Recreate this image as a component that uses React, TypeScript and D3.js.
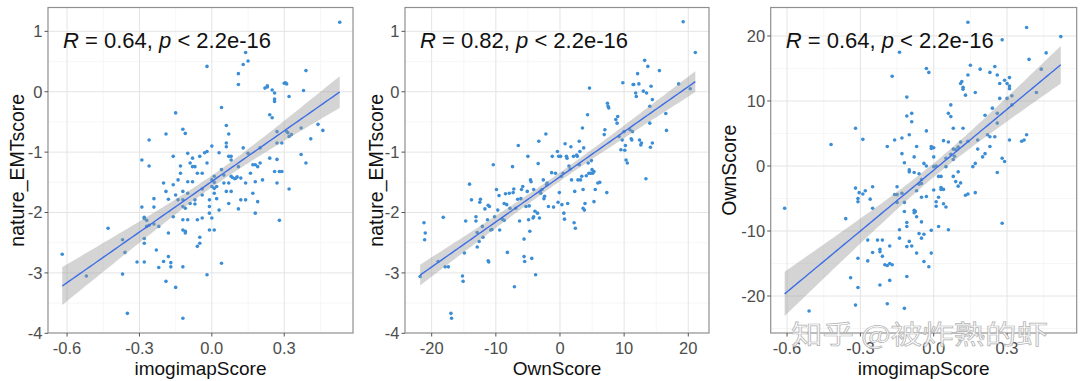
import React from "react";
import * as d3 from "d3";

type Pt = [number, number];

// Panel 1: x = imogimapScore, y = nature_EMTscore
const emtVsImogimap: Pt[] = [
  [-0.62,-2.69],[-0.52,-3.05],[-0.43,-2.26],[-0.36,-2.66],[-0.37,-2.45],[-0.37,-3.02],[-0.35,-3.67],
  [-0.31,-2.82],[-0.28,-2.82],[-0.29,-1.13],[-0.26,-0.80],[-0.26,-1.23],[-0.29,-1.91],[-0.28,-2.08],[-0.28,-2.10],[-0.27,-2.13],[-0.28,-2.43],[-0.28,-2.51],[-0.27,-2.23],[-0.26,-2.21],[-0.24,-1.77],[-0.24,-1.91],[-0.24,-2.19],[-0.22,-2.91],[-0.20,-2.81],[-0.23,-2.62],[-0.22,-2.23],
  [-0.20,-1.51],[-0.19,-1.65],[-0.19,-0.70],[-0.18,-1.78],[-0.18,-2.34],[-0.18,-2.73],[-0.17,-2.83],[-0.17,-2.90],[-0.19,-3.14],[-0.16,-1.07],[-0.16,-1.54],[-0.16,-2.07],[-0.15,-0.35],[-0.15,-1.71],[-0.15,-3.24],[-0.14,-1.46],[-0.14,-1.79],[-0.13,-1.23],[-0.13,-1.35],[-0.12,-1.65],[-0.12,-1.79],[-0.12,-1.90],[-0.12,-0.62],[-0.11,-0.69],[-0.12,-2.12],[-0.12,-2.29],[-0.11,-2.31],[-0.11,-2.34],[-0.11,-1.93],[-0.10,-2.12],[-0.10,-1.68],[-0.10,-1.02],[-0.10,-1.49],[-0.09,-1.18],[-0.12,-3.75],[-0.12,-2.90],
  [-0.09,-1.85],[-0.08,-1.24],[-0.08,-1.10],[-0.08,-1.49],[-0.07,-1.86],[-0.07,-1.79],[-0.07,-1.24],[-0.06,-1.35],[-0.06,-2.56],[-0.06,-2.12],[-0.05,-2.41],[-0.05,-2.51],[-0.05,-1.07],[-0.04,-2.09],[-0.04,-1.35],[-0.04,-1.71],[-0.04,-1.61],[-0.03,-1.01],[-0.02,0.42],[-0.02,-1.18],[-0.02,-0.99],[-0.02,-3.03],[-0.01,-2.29],[-0.01,-2.01],[-0.01,-1.90],[-0.01,-1.79],[0.00,-2.09],[0.00,-1.57],[0.00,-1.46],[0.00,-0.90],[0.01,-2.29],[0.01,-1.68],[0.01,-1.60],[0.01,-1.50],[0.01,-1.40],[0.02,-1.77],[0.02,-1.57],
  [0.03,-1.01],[0.04,-0.26],[0.03,-1.96],[0.04,-1.29],[0.04,-2.84],[0.05,-1.51],[0.05,-1.38],[0.06,-1.65],[0.06,-0.56],[0.06,-0.85],[0.06,-0.91],[0.07,-0.70],[0.07,-1.07],[0.07,-1.51],[0.07,-1.85],[0.08,-1.65],[0.08,-1.40],[0.08,-1.07],[0.08,-1.13],[0.085,-1.42],[0.095,-1.44],[0.10,-1.43],[0.105,-1.41],
  [0.11,0.30],[0.11,-1.94],[0.11,-1.24],[0.11,0.12],[0.12,-1.79],[0.12,-1.43],[0.13,0.45],[0.13,-0.93],[0.14,-1.79],[0.14,-1.51],[0.14,0.65],[0.15,0.51],[0.15,-1.02],
  [0.16,-1.35],[0.17,-1.21],[0.17,-1.68],[0.18,-1.21],[0.18,-1.49],[0.18,-2.01],[0.19,-1.82],[0.19,-1.24],[0.20,-1.18],[0.20,-0.93],[0.21,-1.46],[0.22,0.06],[0.23,0.10],[0.23,0.08],[0.24,-0.38],[0.24,-1.10],[0.25,0.03],[0.25,-0.43],[0.26,-0.12],[0.26,-0.16],[0.26,-0.02],[0.26,-1.32],[0.27,-1.51],[0.27,-1.12],[0.27,-0.85],[0.27,-0.66],[0.28,-1.32],[0.28,-2.13],[0.29,-1.32],[0.29,-0.85],[0.30,0.14],[0.305,0.15],[0.31,-0.66],[0.31,0.13],[0.315,-0.68],[0.32,-0.08],[0.32,-1.61],[0.32,-0.74],[0.33,-0.71],[0.37,-0.60],[0.37,-1.04],[0.39,0.35],[0.38,0.02],[0.39,-1.18],[0.41,-0.78],[0.44,-0.54],[0.46,-0.64],[0.53,1.15],
];

// Panel 2: x = OwnScore, y = nature_EMTscore
const emtVsOwn: Pt[] = [
  [-21.8,-3.06],[-21.2,-2.17],[-21.0,-2.34],[-21.1,-2.45],[-19.0,-2.81],[-18.2,-2.08],[-17.9,-2.90],[-17.4,-2.90],[-17.0,-3.67],[-16.9,-3.75],[-15.2,-3.05],[-15.1,-3.14],[-14.9,-2.67],[-14.7,-2.14],[-14.1,-1.53],[-13.8,-1.79],[-13.1,-2.07],[-13.1,-2.14],[-12.9,-2.33],[-12.9,-2.57],[-12.6,-2.48],[-12.5,-1.83],[-12.4,-1.78],[-12.1,-2.23],[-12.0,-2.41],[-11.7,-1.94],[-11.3,-2.12],[-11.2,-1.88],[-11.0,-1.90],[-11.2,-2.80],[-11.1,-2.82],[-10.8,-2.29],[-10.6,-2.28],[-10.4,-1.21],[-10.2,-2.07],[-9.9,-1.62],[-9.7,-1.96],[-9.5,-1.72],[-9.4,-2.29],[-9.0,-2.11],[-8.7,-2.13],[-8.7,-1.85],[-8.5,-1.69],[-8.3,-1.87],[-8.2,-2.66],[-7.9,-1.68],[-7.8,-1.93],[-7.4,-1.24],[-7.3,-1.67],[-7.2,-1.61],[-7.1,-3.23],[-6.9,-1.93],[-6.6,-1.78],[-6.5,-0.89],[-6.3,-2.14],[-6.1,-1.77],[-6.0,-1.62],[-5.8,-1.57],[-5.6,-2.44],[-5.6,-2.73],[-5.5,-2.81],[-5.3,-1.90],[-5.1,-1.65],[-5.0,-1.07],[-4.9,-2.12],[-4.8,-1.89],[-4.7,-2.31],[-4.6,-1.46],[-4.5,-1.49],[-4.4,-2.76],[-4.2,-2.09],[-4.1,-1.62],[-4.1,-2.07],[-3.9,-1.98],[-3.8,-3.03],[-3.5,-2.01],[-3.4,-1.19],[-3.3,-0.82],[-3.2,-2.09],[-3.1,-1.65],[-3.0,-1.68],[-2.8,-1.62],[-2.6,-1.46],[-2.5,-1.77],[-2.4,-1.73],[-2.2,-0.70],[-2.1,-1.54],[-2.0,-1.51],[-1.8,-1.90],[-1.3,-1.34],[-1.2,-1.07],[-1.0,-1.91],[-0.7,-1.35],[-0.4,-0.99],[-0.3,-1.83],[-0.2,-1.07],[-0.1,-1.67],[0.1,-1.07],[0.2,-1.40],[0.3,-1.87],[0.5,-1.35],[0.6,-2.01],[0.7,-2.11],[0.8,-0.86],[1.0,-1.07],[1.1,-1.10],[1.2,-1.85],[1.4,-1.23],[1.6,-1.28],[1.7,-0.91],[1.8,-1.46],[2.1,-1.07],[2.2,-2.17],[2.3,-1.65],[2.4,-2.26],[2.6,-1.05],[2.7,-1.07],[2.8,-1.46],[3.0,-1.21],[3.0,-0.82],[3.1,-0.99],[3.2,-1.46],[3.4,-1.40],[3.5,-0.60],[3.6,-1.62],[3.6,-1.93],[3.7,-0.93],[3.8,-1.96],[3.9,-1.85],[4.1,-1.39],[4.3,-0.38],[4.4,-1.18],[4.5,-1.35],[4.6,0.06],[4.8,-1.35],[4.9,-1.14],[5.0,-1.29],[5.1,-1.35],[5.3,-1.32],[5.3,-1.82],[5.5,-1.62],[5.9,-1.51],[6.2,-1.50],[6.9,-0.71],[7.0,-0.63],[7.3,-1.67],[7.4,-0.19],[7.5,-0.24],[7.6,-0.27],[8.7,-0.46],[8.9,-0.52],[9.0,-0.41],[9.2,-0.74],[9.5,-0.96],[9.7,-0.80],[9.8,0.15],[10.0,-0.66],[10.1,-0.97],[10.2,-0.89],[10.3,-1.13],[10.5,-1.18],[10.9,-0.63],[11.1,-0.78],[11.2,-0.80],[11.3,-0.66],[11.4,0.12],[11.5,0.12],[11.8,-0.02],[11.9,-0.08],[12.1,0.30],[12.3,0.13],[12.4,-0.80],[12.6,-0.88],[12.7,-0.85],[13.0,0.01],[13.2,0.52],[13.4,-1.44],[13.5,-0.02],[13.7,0.42],[14.0,-0.24],[14.0,-0.52],[14.1,-0.92],[14.2,0.09],[14.4,-0.85],[14.4,-0.13],[15.5,0.35],[16.5,-0.36],[16.6,-0.64],[18.5,0.13],[19.2,1.16],[20.3,0.05],[21.1,0.65],
];

// Panel 3: x = imogimapScore, y = OwnScore
const ownVsImogimap: Pt[] = [
  [-0.61,-6.5],[-0.51,-22.3],[-0.42,3.3],[-0.36,-8.1],[-0.34,-17.2],[-0.32,-3.4],[-0.32,-21.4],[-0.32,5.8],[-0.31,-5.0],[-0.31,-5.5],[-0.31,-18.7],[-0.305,-4.1],[-0.31,-14.2],[-0.29,-4.3],[-0.29,4.1],[-0.28,-3.8],[-0.27,-11.4],[-0.27,-14.6],[-0.26,-5.1],[-0.25,-3.2],[-0.25,-6.5],[-0.25,-13.3],[-0.23,-11.4],[-0.22,-12.8],[-0.22,-13.2],[-0.22,-18.3],[-0.21,-11.4],[-0.21,-13.9],[-0.20,-15.2],[-0.19,-15.3],[-0.19,3.0],[-0.19,-21.2],[-0.18,-12.3],[-0.18,-15.0],[-0.18,-17.6],[-0.17,-15.2],[-0.17,13.8],[-0.16,-4.4],[-0.16,4.0],[-0.15,-3.2],[-0.15,-4.4],[-0.15,-5.6],[-0.14,17.5],[-0.14,-9.8],[-0.14,-11.1],[-0.13,4.3],[-0.13,1.9],[-0.13,-4.2],[-0.12,0.5],[-0.12,-7.0],[-0.12,-5.6],[-0.12,-21.9],[-0.11,-17.0],[-0.11,-8.7],[-0.11,10.6],[-0.11,7.7],[-0.11,-9.3],[-0.11,-12.4],[-0.10,4.8],[-0.10,-0.6],[-0.10,-0.9],[-0.10,-11.6],[-0.09,6.8],[-0.09,8.1],[-0.09,-12.3],[-0.08,-6.8],[-0.08,-1.0],[-0.08,1.4],[-0.08,-7.2],[-0.075,-7.0],[-0.07,-13.4],[-0.07,3.0],[-0.07,-7.8],[-0.07,-3.8],[-0.06,-10.4],[-0.06,-1.2],[-0.06,-2.8],[-0.05,-4.8],[-0.05,-11.1],[-0.05,-8.6],[-0.05,-2.7],[-0.05,-2.1],[-0.04,-14.7],[-0.04,0.4],[-0.04,-10.5],[-0.03,-4.7],[-0.03,5.4],[-0.03,15.0],[-0.03,0.0],[-0.02,-15.5],[-0.02,14.4],[-0.01,-13.4],[-0.01,-9.9],[-0.01,3.0],[-0.01,2.7],[0.00,1.4],[0.00,2.8],[0.00,-0.1],[0.00,-3.7],[0.01,0.0],[0.01,-5.5],[0.01,-6.2],[0.02,-9.3],[0.02,-1.6],[0.02,-4.8],[0.03,-3.6],[0.03,-3.3],[0.03,-1.6],[0.04,3.9],[0.04,-5.8],[0.04,-3.6],[0.05,-6.3],[0.05,1.2],[0.05,-0.1],[0.06,8.1],[0.06,3.7],[0.06,-9.8],[0.07,7.6],[0.07,9.4],[0.07,1.8],[0.08,-1.6],[0.08,5.8],[0.08,2.6],[0.08,1.0],[0.085,1.5],[0.09,2.5],[0.09,-2.4],[0.10,-0.9],[0.10,2.9],[0.10,-3.1],[0.11,3.7],[0.11,12.7],[0.115,13.0],[0.11,-2.6],[0.12,12.1],[0.12,11.8],[0.12,5.8],[0.13,10.9],[0.13,-4.5],[0.14,14.0],[0.14,-4.3],[0.14,3.8],[0.14,22.1],[0.15,15.5],[0.16,-0.1],[0.17,0.4],[0.17,-4.1],[0.17,11.3],[0.18,4.0],[0.18,2.6],[0.19,14.9],[0.20,1.4],[0.21,7.8],[0.21,1.9],[0.22,4.8],[0.23,4.5],[0.23,14.4],[0.23,3.0],[0.24,8.9],[0.25,4.5],[0.25,15.3],[0.26,-1.0],[0.26,14.0],[0.26,8.1],[0.26,6.6],[0.27,10.4],[0.27,12.7],[0.28,1.2],[0.28,-8.8],[0.28,19.4],[0.29,0.7],[0.29,13.2],[0.30,10.4],[0.30,12.7],[0.31,12.3],[0.31,11.9],[0.31,4.0],[0.31,13.6],[0.32,10.8],[0.32,9.4],[0.36,3.8],[0.37,4.0],[0.38,4.8],[0.38,21.3],[0.39,16.4],[0.42,11.3],[0.44,14.9],[0.46,17.4],[0.52,19.9],
];

const imogimapTicks = [-0.6, -0.3, 0, 0.3];
const imogimapTickLabels = ["-0.6", "-0.3", "0.0", "0.3"];
const emtTicks = [-4, -3, -2, -1, 0, 1];
const emtTickLabels = ["-4", "-3", "-2", "-1", "0", "1"];
const ownTicks = [-20, -10, 0, 10, 20];
const ownTickLabels = ["-20", "-10", "0", "10", "20"];
const corR = ["0.64", "0.82", "0.64"];
const corP = "2.2e-16";
const watermark = "知乎 @被炸熟的虾";

const FONT = "'Liberation Sans', Arial, Helvetica, sans-serif";

type PanelProps = {
  data: Pt[];
  left: number; right: number; top: number; bottom: number;
  xDomain: [number, number]; yDomain: [number, number];
  xTicks: number[]; xTickLabels: string[];
  yTicks: number[]; yTickLabels: string[];
  xTitle: string; yTitle: string; yTitleX: number;
  r: string; id: string;
};

function minorBreaks(ticks: number[], domain: [number, number]) {
  const step = ticks[1] - ticks[0];
  const out: number[] = [];
  for (let v = ticks[0] - step / 2; v <= domain[1]; v += step) {
    if (v >= domain[0] && v <= domain[1]) out.push(v);
  }
  return out;
}

function Panel(p: PanelProps) {
  const x = d3.scaleLinear().domain(p.xDomain).range([p.left, p.right]);
  const y = d3.scaleLinear().domain(p.yDomain).range([p.bottom, p.top]);
  const xMinor = minorBreaks(p.xTicks, p.xDomain);
  const yMinor = minorBreaks(p.yTicks, p.yDomain);

  // linear fit with 95% confidence band
  const n = p.data.length;
  const mx = d3.mean(p.data, d => d[0])!;
  const my = d3.mean(p.data, d => d[1])!;
  let sxx = 0, sxy = 0;
  p.data.forEach(d => { sxx += (d[0] - mx) ** 2; sxy += (d[0] - mx) * (d[1] - my); });
  const b = sxy / sxx;
  const a = my - b * mx;
  let sse = 0;
  p.data.forEach(d => { sse += (d[1] - a - b * d[0]) ** 2; });
  const s = Math.sqrt(sse / (n - 2));
  const t = 1.972;
  const [x0, x1] = d3.extent(p.data, d => d[0]) as [number, number];
  const fit = d3.range(81).map(i => {
    const xv = x0 + ((x1 - x0) * i) / 80;
    const yv = a + b * xv;
    const se = s * Math.sqrt(1 / n + (xv - mx) ** 2 / sxx);
    return { x: xv, y: yv, lo: yv - t * se, hi: yv + t * se };
  });
  const area = d3.area<any>().x(d => x(d.x)).y0(d => y(d.lo)).y1(d => y(d.hi));
  const line = d3.line<any>().x(d => x(d.x)).y(d => y(d.y));

  const cx = (p.left + p.right) / 2;
  const cy = (p.top + p.bottom) / 2;

  return (
    <g>
      <defs>
        <clipPath id={p.id}>
          <rect x={p.left} y={p.top} width={p.right - p.left} height={p.bottom - p.top} />
        </clipPath>
      </defs>
      <rect x={p.left} y={p.top} width={p.right - p.left} height={p.bottom - p.top} fill="#fff" />
      <g clipPath={`url(#${p.id})`}>
        {xMinor.map(v => <line key={"xm" + v} x1={x(v)} x2={x(v)} y1={p.top} y2={p.bottom} stroke="#f2f2f2" strokeWidth={0.7} />)}
        {yMinor.map(v => <line key={"ym" + v} y1={y(v)} y2={y(v)} x1={p.left} x2={p.right} stroke="#f2f2f2" strokeWidth={0.7} />)}
        {p.xTicks.map(v => <line key={"xg" + v} x1={x(v)} x2={x(v)} y1={p.top} y2={p.bottom} stroke="#e4e4e4" strokeWidth={1} />)}
        {p.yTicks.map(v => <line key={"yg" + v} y1={y(v)} y2={y(v)} x1={p.left} x2={p.right} stroke="#e4e4e4" strokeWidth={1} />)}
        {p.data.map((d, i) => (
          <circle key={i} cx={x(d[0])} cy={y(d[1])} r={1.8} fill="#3b8ed6" />
        ))}
        <path d={area(fit)!} fill="#999999" fillOpacity={0.42} />
        <path d={line(fit)!} fill="none" stroke="#3d6ee6" strokeWidth={1.4} />
      </g>
      <rect x={p.left} y={p.top} width={p.right - p.left} height={p.bottom - p.top} fill="none" stroke="#8f8f8f" strokeWidth={1.2} />
      {p.xTicks.map((v, i) => (
        <g key={"xt" + v}>
          <line x1={x(v)} x2={x(v)} y1={p.bottom} y2={p.bottom + 3.5} stroke="#555" strokeWidth={1} />
          <text x={x(v)} y={353.5} textAnchor="middle" fontSize={16.5} fill="#4d4d4d" fontFamily={FONT}>{p.xTickLabels[i]}</text>
        </g>
      ))}
      {p.yTicks.map((v, i) => (
        <g key={"yt" + v}>
          <line x1={p.left - 3.5} x2={p.left} y1={y(v)} y2={y(v)} stroke="#555" strokeWidth={1} />
          <text x={p.left - 5.5} y={y(v)} dy="0.36em" textAnchor="end" fontSize={16.5} fill="#4d4d4d" fontFamily={FONT}>{p.yTickLabels[i]}</text>
        </g>
      ))}
      <text x={cx} y={374.5} textAnchor="middle" fontSize={19} fill="#111" fontFamily={FONT}>{p.xTitle}</text>
      <text transform={`translate(${p.yTitleX},${cy}) rotate(-90)`} textAnchor="middle" fontSize={19.5} fill="#111" fontFamily={FONT}>{p.yTitle}</text>
      <text x={p.left + 15} y={48} fontSize={22} fill="#111" fontFamily={FONT}>
        <tspan fontStyle="italic">R</tspan>
        <tspan>{` = ${p.r}, `}</tspan>
        <tspan fontStyle="italic">p</tspan>
        <tspan>{` < ${corP}`}</tspan>
      </text>
    </g>
  );
}

export default function App() {
  return (
    <svg width={1080} height={381} style={{ position: "absolute", left: 0, top: 0, background: "#fff" }}>
      <rect width={1080} height={381} fill="#fff" />
      <Panel id="c1" data={emtVsImogimap} left={48} right={353} top={7.5} bottom={333}
        xDomain={[-0.679, 0.585]} yDomain={[-3.995, 1.395]}
        xTicks={imogimapTicks} xTickLabels={imogimapTickLabels}
        yTicks={emtTicks} yTickLabels={emtTickLabels}
        xTitle="imogimapScore" yTitle="nature_EMTscore" yTitleX={23.5} r={corR[0]} />
      <Panel id="c2" data={emtVsOwn} left={405} right={709} top={7.5} bottom={333}
        xDomain={[-24.16, 23.23]} yDomain={[-3.995, 1.395]}
        xTicks={ownTicks} xTickLabels={ownTickLabels}
        yTicks={emtTicks} yTickLabels={emtTickLabels}
        xTitle="OwnScore" yTitle="nature_EMTscore" yTitleX={382.5} r={corR[1]} />
      <Panel id="c3" data={ownVsImogimap} left={770.7} right={1076.7} top={7.5} bottom={333}
        xDomain={[-0.667, 0.585]} yDomain={[-25.69, 24.38]}
        xTicks={imogimapTicks} xTickLabels={imogimapTickLabels}
        yTicks={ownTicks} yTickLabels={ownTickLabels}
        xTitle="imogimapScore" yTitle="OwnScore" yTitleX={736} r={corR[2]} />
      <text x={791} y={344} fontSize={26} fill="#ffffff" fillOpacity={0.85} stroke="#b4b4b4" strokeWidth={0.7}
        fontFamily="'Noto Sans CJK SC', sans-serif" textLength={257} lengthAdjust="spacingAndGlyphs">
        {watermark}
      </text>
    </svg>
  );
}
